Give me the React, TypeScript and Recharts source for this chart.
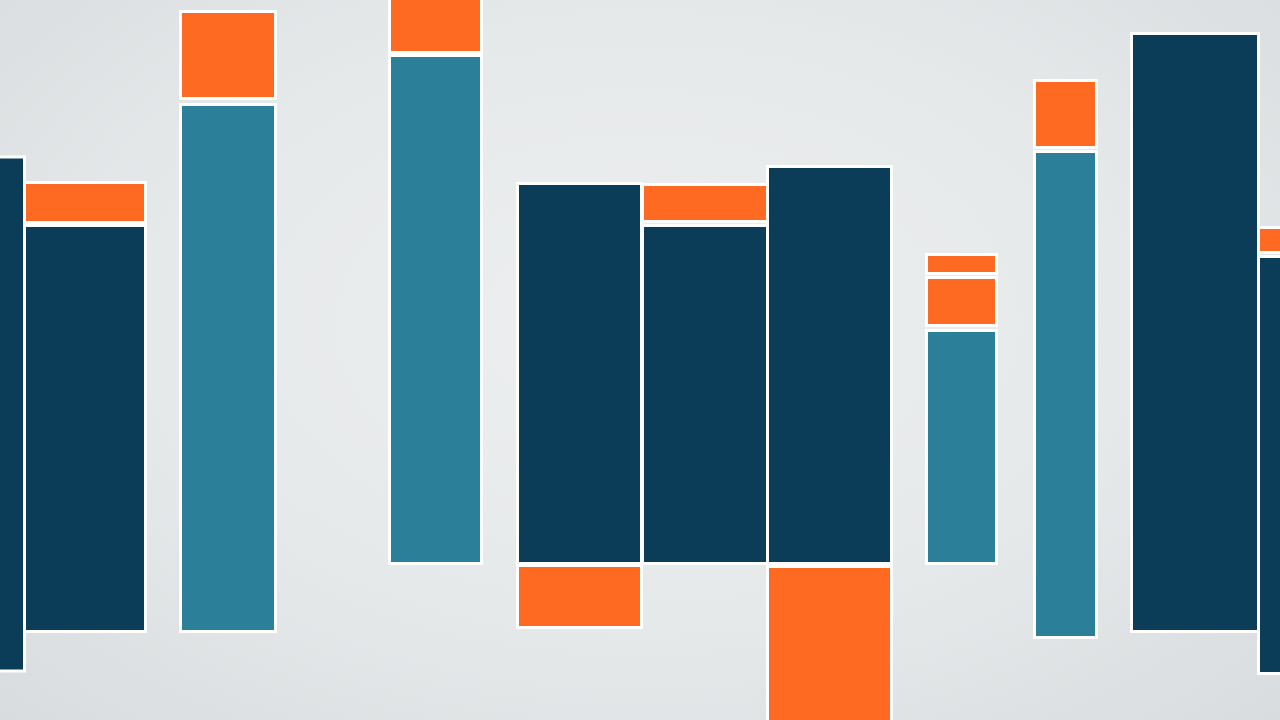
import React from "react";
import { ComposedChart, XAxis, YAxis, ReferenceArea, Scatter } from "recharts";

// each column spans [spanStart, spanEnd] on the x scale
const spanStart = [-0.3, 2.45, 18.05, 38.95, 51.75, 64.25, 76.75, 92.65, 103.45, 113.15, 125.85];
const spanEnd = [2.45, 14.55, 27.55, 48.15, 64.15, 76.75, 89.15, 99.65, 109.65, 125.85, 128.3];

// main block of each column
const mainLow = [4.9, 8.85, 8.85, 15.65, 15.65, 15.65, 15.65, 15.65, 8.25, 8.85, 4.65];
const mainHigh = [56.3, 49.45, 61.55, 66.45, 53.65, 49.45, 55.35, 38.95, 56.85, 68.65, 46.35];
const mainTone = ["dark", "dark", "teal", "teal", "dark", "dark", "dark", "teal", "teal", "dark", "dark"];

// orange caps above the main block
const capLow = [null, 49.75, 62.15, 66.75, null, 49.85, null, 39.45, 57.25, null, 46.75];
const capHigh = [null, 53.75, 70.85, 72.2, null, 53.55, null, 44.25, 63.95, null, 49.25];
const cap2Low = [null, null, null, null, null, null, null, 44.65, null, null, null];
const cap2High = [null, null, null, null, null, null, null, 46.55, null, null, null];

// orange blocks hanging below the baseline
const dipLow = [null, null, null, null, 9.25, null, -0.5, null, null, null, null];
const dipHigh = [null, null, null, null, 15.45, null, 15.35, null, null, null, null];

const COLORS: Record<string, string> = {
    dark: "#0b3d58",
    teal: "#2b7f99",
    orange: "#ff6a22",
};

const centers = spanStart.map((s, i) => ({ x: (s + spanEnd[i]) / 2, y: mainLow[i] }));

function Block({ i, low, high, tone }: { i: number; low: number; high: number; tone: string }) {
    return (
        <ReferenceArea
            x1={spanStart[i]}
            x2={spanEnd[i]}
            y1={low}
            y2={high}
            fill={COLORS[tone]}
            fillOpacity={1}
            stroke="#ffffff"
            strokeWidth={3}
            ifOverflow="hidden"
        />
    );
}

export default function App() {
    const areas: React.ReactNode[] = [];
    spanStart.forEach((_, i) => {
        areas.push(Block({ i, low: mainLow[i], high: mainHigh[i], tone: mainTone[i] }));
        if (capLow[i] !== null) areas.push(Block({ i, low: capLow[i] as number, high: capHigh[i] as number, tone: "orange" }));
        if (cap2Low[i] !== null) areas.push(Block({ i, low: cap2Low[i] as number, high: cap2High[i] as number, tone: "orange" }));
        if (dipLow[i] !== null) areas.push(Block({ i, low: dipLow[i] as number, high: dipHigh[i] as number, tone: "orange" }));
    });

    return (
        <div
            style={{
                position: "fixed",
                left: 0,
                top: 0,
                width: 1280,
                height: 720,
                overflow: "hidden",
                background: "radial-gradient(ellipse at 50% 45%, #eceeef 0%, #e6e9ea 55%, #d9dcde 100%)",
            }}
        >
            <ComposedChart width={1280} height={720} margin={{ top: 0, right: 0, bottom: 0, left: 0 }}>
                <XAxis type="number" dataKey="x" domain={[0, 128]} allowDataOverflow hide />
                <YAxis type="number" dataKey="y" domain={[0, 72]} allowDataOverflow hide />
                <Scatter data={centers} isAnimationActive={false} shape={() => <g />} />
                {areas.map((a, k) => (
                    <React.Fragment key={k}>{a}</React.Fragment>
                ))}
            </ComposedChart>
        </div>
    );
}
